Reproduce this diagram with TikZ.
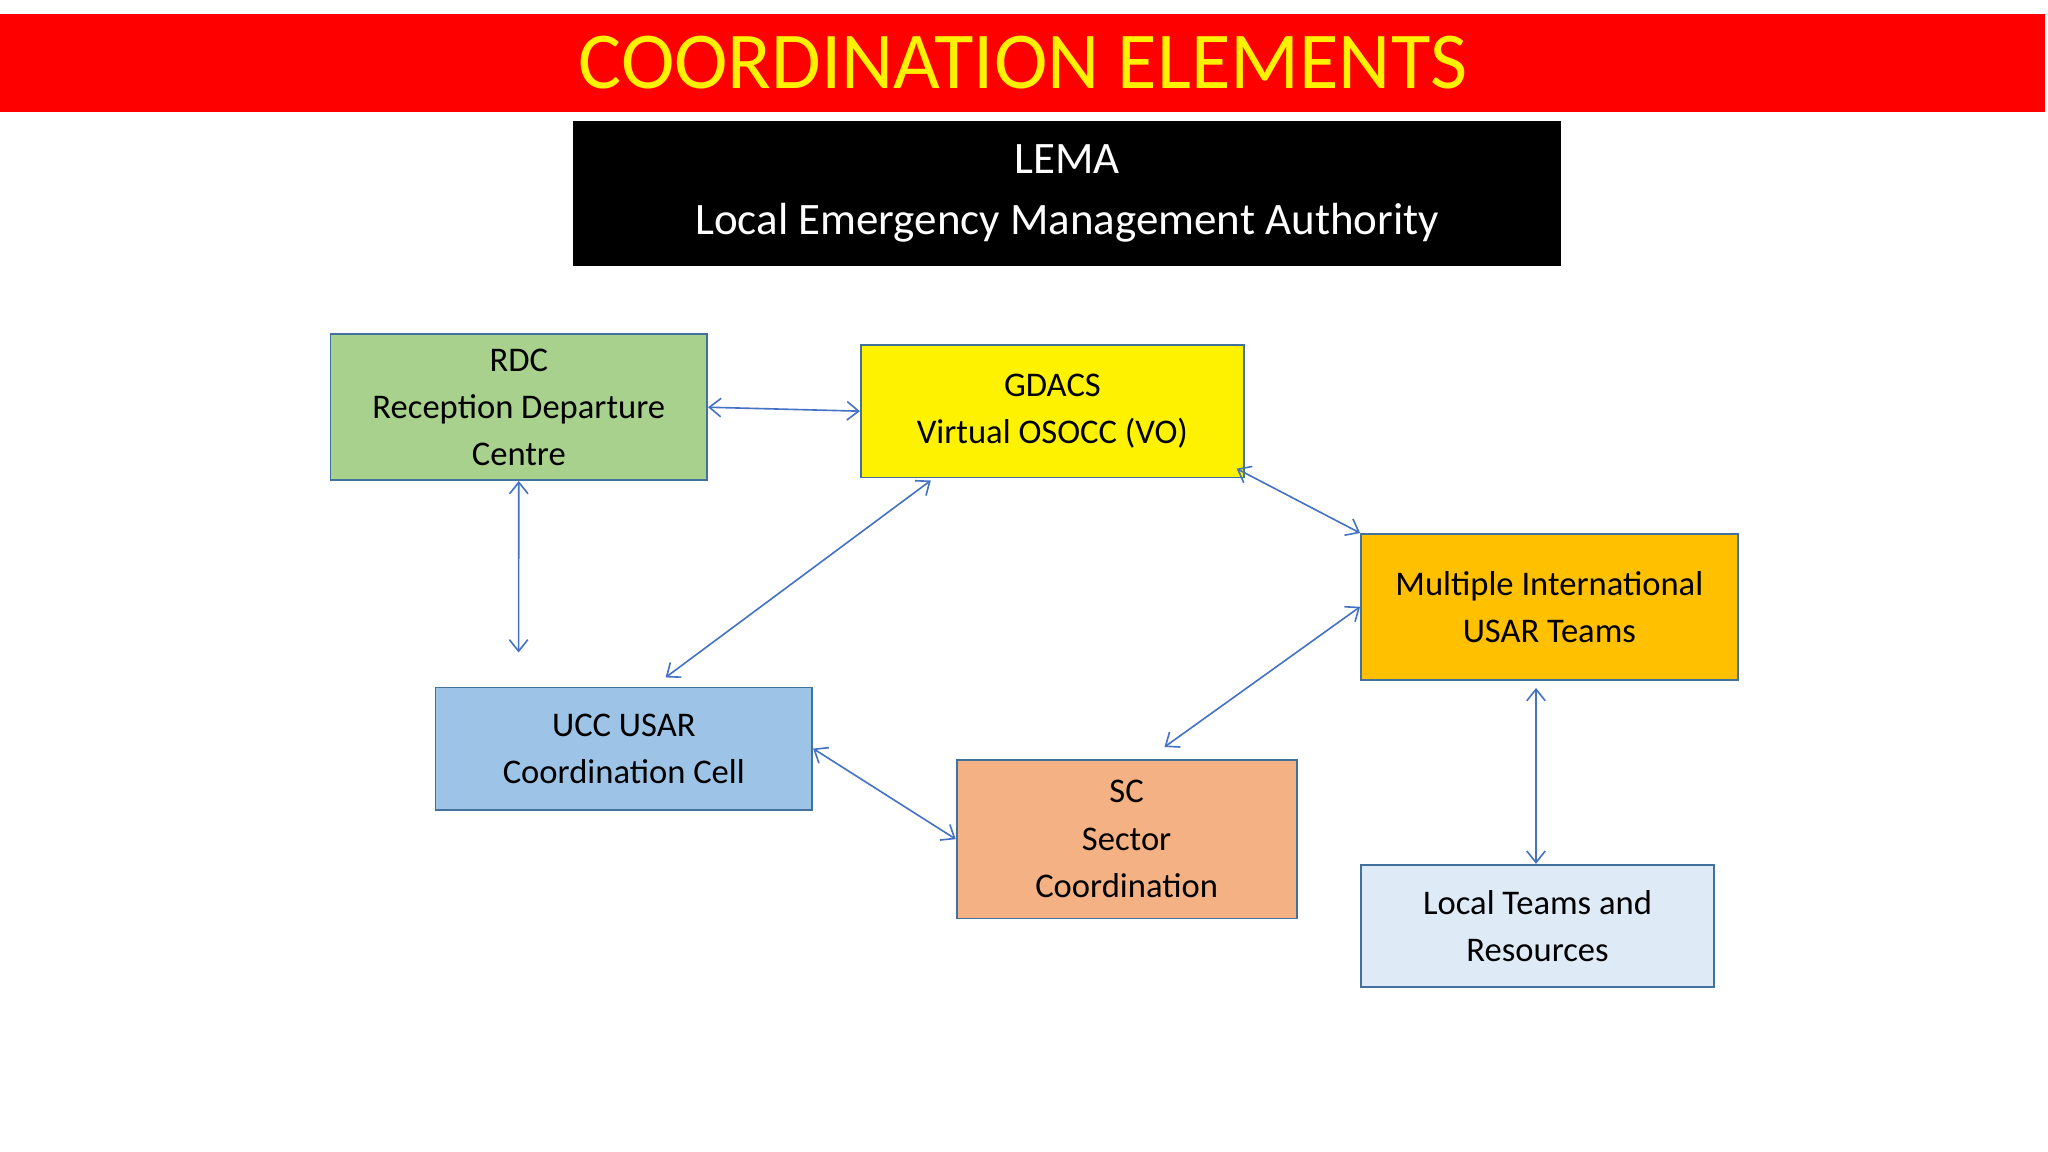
\documentclass[tikz,border=0pt]{standalone}
\usepackage{fontspec}
\setmainfont{Carlito}
\usetikzlibrary{arrows.meta}
\definecolor{bord}{HTML}{41719C}
\definecolor{arr}{HTML}{4472C4}
\definecolor{cgreen}{HTML}{A9D18E}
\definecolor{corange}{HTML}{FFC000}
\definecolor{cblue}{HTML}{9DC3E6}
\definecolor{csalmon}{HTML}{F4B183}
\definecolor{clight}{HTML}{DEEBF7}
\begin{document}
\begin{tikzpicture}[x=0.02cm,y=-0.02cm,
 box/.style={draw=bord,line width=0.8pt,anchor=north west,inner sep=0pt,align=center,font=\fontsize{15}{20.5}\selectfont},
 con/.style={draw=arr,line width=0.7pt,{Straight Barb[length=5pt,width=8pt]}-{Straight Barb[length=5pt,width=8pt]}}]
\useasboundingbox (0,0) rectangle (1560,877.5);
\fill[white] (0,0) rectangle (1560,877.5);
\node[fill=red,anchor=north west,inner sep=0pt,minimum width=31.16cm,minimum height=1.5cm,text=yellow,font=\fontsize{35}{40}\selectfont] (title) at (0,10) {COORDINATION ELEMENTS};
\node[fill=black,anchor=north west,inner sep=0pt,minimum width=15.06cm,minimum height=2.2cm,text=white,align=center,font=\fontsize{19.5}{26.5}\selectfont] (lema) at (436,92) {LEMA\\Local Emergency Management Authority};
\node[box,fill=cgreen,minimum width=5.74cm,minimum height=2.22cm] (rdc) at (251,254) {RDC\\Reception Departure\\Centre};
\node[box,fill=yellow,minimum width=5.84cm,minimum height=2.02cm] (gdacs) at (655,262) {GDACS\\Virtual OSOCC (VO)};
\node[box,fill=corange,minimum width=5.74cm,minimum height=2.22cm] (mult) at (1036,406) {Multiple International\\USAR Teams};
\node[box,fill=cblue,minimum width=5.74cm,minimum height=1.86cm] (ucc) at (331,523) {UCC USAR\\Coordination Cell};
\node[box,fill=csalmon,minimum width=5.18cm,minimum height=2.42cm] (sc) at (728,578) {SC\\Sector\\Coordination};
\node[box,fill=clight,minimum width=5.38cm,minimum height=1.86cm] (local) at (1036,658) {Local Teams and\\Resources};
\coordinate (c1) at (395,497);
\coordinate (c2) at (709,366);
\coordinate (c3) at (507,516);
\coordinate (c4) at (942,357);
\coordinate (c5) at (887,569);
\coordinate (c6) at (1170,524);
\draw[con] (rdc.east) -- (gdacs.west);
\draw[con] (rdc.south) -- (c1);
\draw[con] (c2) -- (c3);
\draw[con] (c4) -- (mult.north west);
\draw[con] (mult.west) -- (c5);
\draw[con] (ucc.east) -- (sc.west);
\draw[con] (c6) -- (local.north -| c6);
\end{tikzpicture}
\end{document}
